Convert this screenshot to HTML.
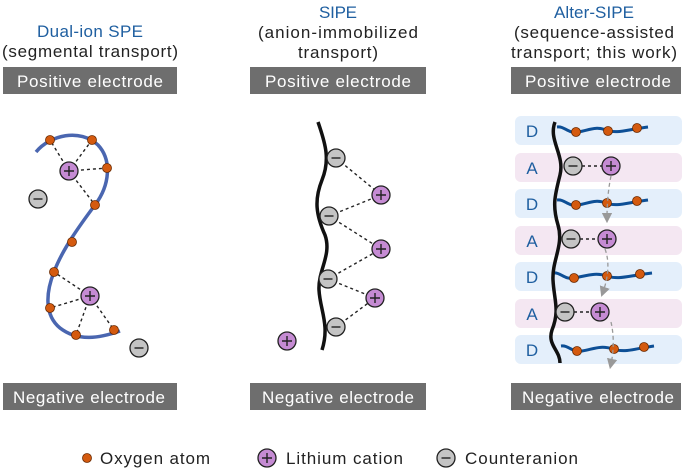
<!DOCTYPE html>
<html><head><style>body{margin:0;background:#fff}svg{display:block}</style></head><body>
<svg width="685" height="470" viewBox="0 0 685 470" xmlns="http://www.w3.org/2000/svg" font-family="Liberation Sans, sans-serif">
<defs>
<g id="cat"><circle r="9" fill="#c58bd3" stroke="#222" stroke-width="1.3"/><path d="M-5 0H5M0 -5V5" stroke="#222" stroke-width="1.4"/></g>
<g id="an"><circle r="9" fill="#c4c4c4" stroke="#222" stroke-width="1.3"/><path d="M-4.5 0H4.5" stroke="#222" stroke-width="1.4"/></g>
<circle id="o" r="4.5" fill="#d45a0f" stroke="#6b2a00" stroke-width="0.8"/>
<marker id="ar" markerWidth="8" markerHeight="8" refX="4" refY="4" orient="auto"><path d="M0 0L8 4L0 8Z" fill="#999"/></marker>
</defs>
<g text-anchor="middle" font-size="17">
<text x="90" y="37" fill="#1f5fa0" textLength="106">Dual-ion SPE</text>
<text x="90" y="57" fill="#222" textLength="176">(segmental transport)</text>
<text x="338" y="18" fill="#1f5fa0" textLength="38">SIPE</text>
<text x="338" y="38" fill="#222" textLength="160">(anion-immobilized</text>
<text x="338" y="58" fill="#222" textLength="80">transport)</text>
<text x="594" y="18" fill="#1f5fa0" textLength="80">Alter-SIPE</text>
<text x="594" y="38" fill="#222" textLength="160">(sequence-assisted</text>
<text x="594" y="58" fill="#222" textLength="166">transport; this work)</text>
</g>
<g fill="#6e6e6e">
<rect x="3" y="67" width="174" height="27"/><rect x="250" y="67" width="176" height="27"/><rect x="511" y="67" width="170" height="27"/>
<rect x="3" y="383" width="174" height="27"/><rect x="250" y="383" width="176" height="27"/><rect x="511" y="383" width="170" height="27"/>
</g>
<g fill="#fff" font-size="17" text-anchor="middle">
<text x="90" y="87" textLength="146">Positive electrode</text><text x="338" y="87" textLength="146">Positive electrode</text><text x="598" y="87" textLength="146">Positive electrode</text>
<text x="89" y="403" textLength="152">Negative electrode</text><text x="338" y="403" textLength="152">Negative electrode</text><text x="598" y="403" textLength="152">Negative electrode</text>
</g>
<path d="M36 152 C50 135 80 128 98 145 C112 160 110 185 95 205 C80 225 62 250 54 272 C46 292 44 315 60 328 C78 342 100 338 120 331" fill="none" stroke="#4a66b0" stroke-width="3.5"/>
<g stroke="#222" stroke-width="1.4" stroke-dasharray="3,3">
<path d="M69 171L50 140M69 171L92 140M69 171L107 168M69 171L95 205M90 296L54 272M90 296L50 308M90 296L76 335M90 296L114 330"/>
</g>
<g><use href="#o" x="50" y="140"/><use href="#o" x="92" y="140"/><use href="#o" x="107" y="168"/><use href="#o" x="95" y="205"/><use href="#o" x="72" y="242"/><use href="#o" x="54" y="272"/><use href="#o" x="50" y="308"/><use href="#o" x="76" y="335"/><use href="#o" x="114" y="330"/></g>
<use href="#cat" x="69" y="171"/><use href="#cat" x="90" y="296"/>
<use href="#an" x="38" y="199"/><use href="#an" x="139" y="348"/>
<path d="M318 122 C326 145 330 160 322 180 C314 200 316 215 325 235 C332 255 318 270 319 290 C320 310 330 325 322 350" fill="none" stroke="#111" stroke-width="3.5"/>
<g stroke="#222" stroke-width="1.4" stroke-dasharray="3,3">
<path d="M336 158L381 195M329 216L381 195M329 216L381 249M328 279L381 249M328 279L375 298M336 327L375 298"/>
</g>
<use href="#an" x="336" y="158"/><use href="#an" x="329" y="216"/><use href="#an" x="328" y="279"/><use href="#an" x="336" y="327"/>
<use href="#cat" x="381" y="195"/><use href="#cat" x="381" y="249"/><use href="#cat" x="375" y="298"/><use href="#cat" x="287" y="341"/>
<g>
<rect x="515" y="116" width="167" height="29" rx="6" fill="#e4effb"/>
<rect x="515" y="153" width="167" height="29" rx="6" fill="#f4e7f2"/>
<rect x="515" y="189" width="167" height="29" rx="6" fill="#e4effb"/>
<rect x="515" y="226" width="167" height="29" rx="6" fill="#f4e7f2"/>
<rect x="515" y="262" width="167" height="29" rx="6" fill="#e4effb"/>
<rect x="515" y="299" width="167" height="29" rx="6" fill="#f4e7f2"/>
<rect x="515" y="335" width="167" height="29" rx="6" fill="#e4effb"/>
</g>
<g fill="#1f5fa0" font-size="17" text-anchor="middle">
<text x="532" y="137">D</text><text x="532" y="174">A</text><text x="532" y="210">D</text><text x="532" y="247">A</text><text x="532" y="283">D</text><text x="532" y="320">A</text><text x="532" y="356">D</text>
</g>
<g fill="none" stroke="#0d4f96" stroke-width="3">
<path d="M557 127 C565 126 568 134 578 132 C590 130 595 126 606 130 C617 134 625 130 648 127"/>
<path d="M557 200 C565 199 568 207 578 205 C590 203 595 199 606 203 C617 207 625 203 648 200"/>
<path d="M553 273 C561 272 564 280 574 278 C586 276 595 272 607 276 C619 280 627 276 652 273"/>
<path d="M561 346 C569 345 572 353 582 351 C594 349 600 345 613 349 C625 353 633 349 654 346"/>
</g>
<path d="M555 122 C548 140 565 155 560 175 C555 195 552 205 558 225 C564 245 552 260 553 280 C554 300 560 310 552 330 C547 345 560 350 560 363" fill="none" stroke="#111" stroke-width="3.5"/>
<g><use href="#o" x="576" y="132"/><use href="#o" x="608" y="131"/><use href="#o" x="637" y="128"/>
<use href="#o" x="576" y="205"/><use href="#o" x="607" y="203"/><use href="#o" x="637" y="201"/>
<use href="#o" x="574" y="278"/><use href="#o" x="607" y="276"/><use href="#o" x="640" y="274"/>
<use href="#o" x="577" y="351"/><use href="#o" x="614" y="349"/><use href="#o" x="644" y="347"/></g>
<g stroke="#222" stroke-width="1.4" stroke-dasharray="3,3"><path d="M582 166H602M580 239H598M574 312H591"/></g>
<g stroke="#999" stroke-width="1.3" stroke-dasharray="4,3" fill="none" marker-end="url(#ar)">
<path d="M611 176 C608 190 607 205 607 218"/><path d="M605 249 C610 262 608 278 603 292"/><path d="M611 322 C614 335 614 350 611 364"/>
</g>
<use href="#an" x="573" y="166"/><use href="#cat" x="611" y="166"/>
<use href="#an" x="571" y="239"/><use href="#cat" x="607" y="239"/>
<use href="#an" x="565" y="312"/><use href="#cat" x="600" y="312"/>
<use href="#o" x="87" y="458"/>
<text x="100" y="464" font-size="17" fill="#222" textLength="110">Oxygen atom</text>
<use href="#cat" x="267" y="458"/>
<text x="286" y="464" font-size="17" fill="#222" textLength="117">Lithium cation</text>
<use href="#an" x="446" y="458"/>
<text x="465" y="464" font-size="17" fill="#222" textLength="113">Counteranion</text>
</svg>
</body></html>
